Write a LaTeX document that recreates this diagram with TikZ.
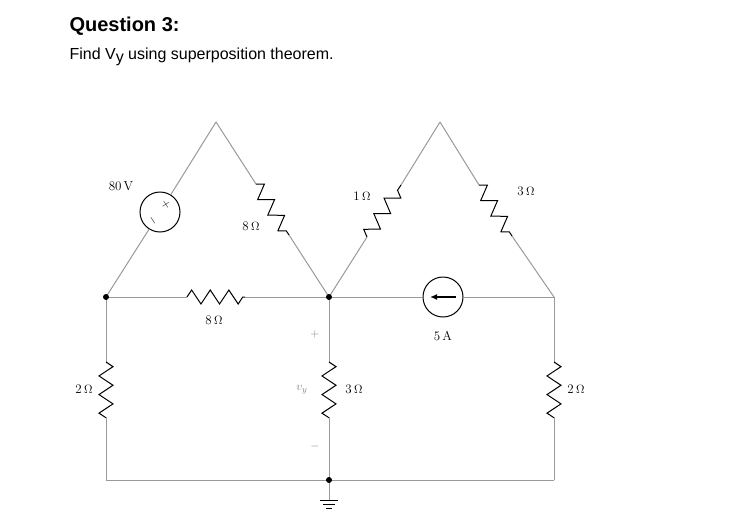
\documentclass[tikz,border=0pt]{standalone}
\usepackage{fontspec}
\newfontfamily\hd{Liberation Sans}
\usetikzlibrary{decorations.pathmorphing,arrows.meta}
\begin{document}
\begin{tikzpicture}[x=1pt,y=-1pt,
  wire/.style={draw=gray!80,line width=1pt},
  res/.style={draw=black,line width=1pt,decorate,decoration={zigzag,amplitude=7pt,segment length=18.6pt}},
  src/.style={circle,draw=black,line width=1pt,minimum size=40pt,inner sep=0pt},
  lab/.style={font=\fontsize{13}{15}\selectfont,inner sep=1pt},
  dot/.style={circle,fill=black,inner sep=0pt,minimum size=6pt}]
\useasboundingbox (0,0) rectangle (756,531);
\node[anchor=west,font=\hd\bfseries\fontsize{20}{24}\selectfont] (q) at (66,26) {Question 3:};
\node[anchor=west,font=\hd\fontsize{16}{19}\selectfont] (f) at (66,57) {Find V\raisebox{-0.35ex}{y} using superposition theorem.};
% coordinates
\coordinate (L) at (106,297); \coordinate (M) at (329,297); \coordinate (R) at (554,297);
\coordinate (TL) at (216,122); \coordinate (TR) at (440,122);
\coordinate (BL) at (106,480); \coordinate (BM) at (329,480); \coordinate (BR) at (554,480);
% voltage source on left leg
\node[src] (vs) at (160,212) {};
\node[lab] (vsl) at (121,186) {80\,V};
\node[font=\fontsize{12}{14}\selectfont,rotate=-57] (vp) at (166,205) {$+$};
\node[font=\fontsize{12}{14}\selectfont,rotate=-57] (vm) at (153,221) {$-$};
\draw[wire] (L) -- (vs); \draw[wire] (vs) -- (TL);
% 8 ohm right leg of left triangle
\coordinate (r1a) at (256,184); \coordinate (r1b) at (289,235);
\draw[wire] (TL) -- (r1a); \draw[res] (r1a) -- (r1b); \draw[wire] (r1b) -- (M);
\node[lab] (r1l) at (251,226) {8\,$\Omega$};
% 8 ohm horizontal
\coordinate (r2a) at (187,297); \coordinate (r2b) at (245,297);
\draw[wire] (L) -- (r2a); \draw[res] (r2a) -- (r2b); \draw[wire] (r2b) -- (M);
\node[lab] (r2l) at (214,320) {8\,$\Omega$};
% 1 ohm
\coordinate (r3a) at (367,237); \coordinate (r3b) at (401,185);
\draw[wire] (M) -- (r3a); \draw[res] (r3a) -- (r3b); \draw[wire] (r3b) -- (TR);
\node[lab] (r3l) at (362,196) {1\,$\Omega$};
% 3 ohm right leg
\coordinate (r4a) at (479,185); \coordinate (r4b) at (512,236);
\draw[wire] (TR) -- (r4a); \draw[res] (r4a) -- (r4b); \draw[wire] (r4b) -- (R);
\node[lab] (r4l) at (526,191) {3\,$\Omega$};
% current source
\node[src] (cs) at (443,297) {};
\draw[-{Latex[length=7pt,width=6pt]},line width=1.3pt] ([xshift=13pt]cs.center) -- ([xshift=-13pt]cs.center);
\draw[wire] (M) -- (cs); \draw[wire] (cs) -- (R);
\node[lab] (csl) at (443,336) {5\,A};
% verticals
\coordinate (r5a) at (106,362); \coordinate (r5b) at (106,418);
\draw[wire] (L) -- (r5a); \draw[res] (r5a) -- (r5b); \draw[wire] (r5b) -- (BL);
\node[lab] (r5l) at (84,389) {2\,$\Omega$};
\coordinate (r6a) at (329,362); \coordinate (r6b) at (329,418);
\draw[wire] (M) -- (r6a); \draw[res] (r6a) -- (r6b); \draw[wire] (r6b) -- (BM);
\node[lab] (r6l) at (354,389) {3\,$\Omega$};
\node[font=\fontsize{13}{15}\selectfont,text=gray] (vyp) at (315,334) {$+$};
\node[font=\fontsize{13}{15}\selectfont,text=gray] (vym) at (315,446) {$-$};
\node[font=\fontsize{13}{15}\selectfont,text=gray] (vyl) at (302,390) {$v_y$};
\coordinate (r7a) at (554,362); \coordinate (r7b) at (554,418);
\draw[wire] (R) -- (r7a); \draw[res] (r7a) -- (r7b); \draw[wire] (r7b) -- (BR);
\node[lab] (r7l) at (576,389) {2\,$\Omega$};
\draw[wire] (BL) -- (BR);
% ground
\coordinate (g) at (329,500);
\draw[wire] (BM) -- (g);
\draw[line width=1pt] (320,500) -- (338,500) (323,504) -- (335,504) (326,508) -- (332,508);
\node[dot] (d1) at (L) {}; \node[dot] (d2) at (M) {}; \node[dot] (d3) at (BM) {};
\end{tikzpicture}
\end{document}
